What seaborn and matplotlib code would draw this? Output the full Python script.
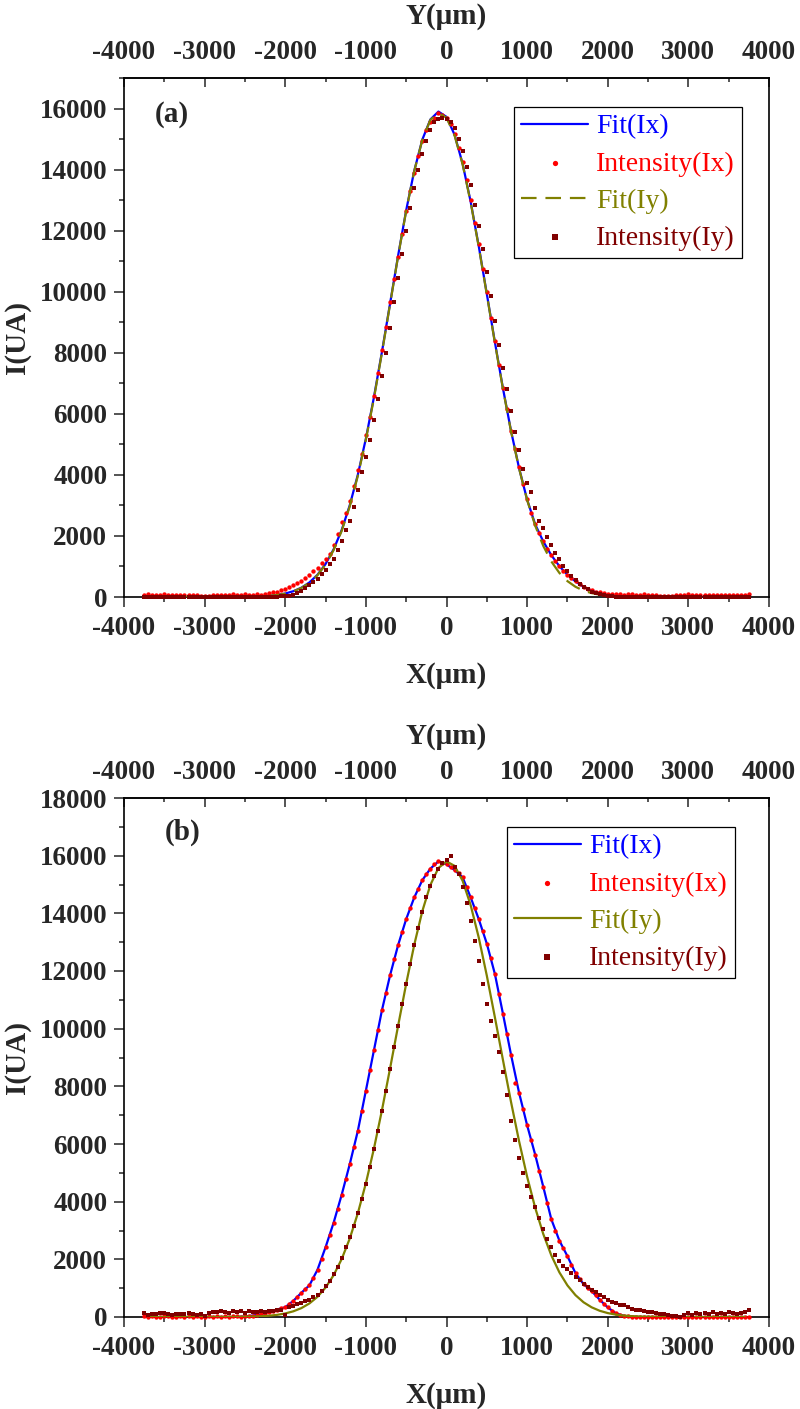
import numpy as np
import matplotlib
matplotlib.use("Agg")
import matplotlib.pyplot as plt
import seaborn as sns
from matplotlib.ticker import MultipleLocator, FixedLocator

# ---------------- sampling grids (µm) ----------------
x_fit = np.arange(-3700, 3701, 100)     # fit curves
x_int = np.arange(-3750, 3751, 50)      # measured intensity points

# ---------------- panel (a) ----------------
a_fit_ix = [0, 0, 0, 0, 0, 0, 0, 0, 0, 1,
            1, 2, 5, 11, 21, 39, 67, 114, 189, 304,
            477, 728, 1080, 1561, 2194, 3004, 4002, 5188, 6546, 8041,
            9612, 11184, 12666, 13962, 14980, 15642, 15900, 15727, 15142, 14191,
            12943, 11491, 9930, 8351, 6837, 5446, 4223, 3188, 2380, 1820,
            1370, 1010, 730, 510, 330, 205, 120, 68, 37, 19,
            9, 4, 2, 1, 0, 0, 0, 0, 0, 0,
            0, 0, 0, 0, 0]
a_fit_iy = [0, 0, 0, 0, 0, 0, 0, 0, 0, 1,
            1, 2, 5, 10, 20, 37, 64, 110, 183, 296,
            466, 713, 1060, 1537, 2165, 2970, 3965, 5150, 6510, 8010,
            9590, 11165, 12650, 13950, 14970, 15630, 15850, 15700, 15120, 14170,
            12920, 11470, 9910, 8330, 6820, 5430, 4210, 3180, 2340, 1674,
            1165, 789, 520, 334, 208, 127, 75, 43, 24, 13,
            7, 3, 1, 0, 0, 0, 0, 0, 0, 0,
            0, 0, 0, 0, 0]
a_int_ix = [60, 90, 70, 80, 60, 90, 50, 70, 60, 70,
            50, 60, 70, 50, 40, 20, 30, 60, 70, 50,
            60, 80, 90, 70, 80, 90, 70, 80, 90, 80, 100,
            130, 160, 150, 220, 250, 320, 380, 450, 520, 610,
            720, 840, 960, 1100, 1250, 1400, 1700, 2050, 2450, 2750,
            3150, 3650, 4150, 4700, 5300, 5900, 6600, 7350, 8100, 8850,
            9650, 10400, 11150, 11900, 12650, 13300, 13900, 14450, 14950, 15300,
            15550, 15700, 15850, 15800, 15700, 15500, 15150, 14700, 14250, 13650,
            13000, 12250, 11550, 10750, 10000, 9150, 8400, 7600, 6850, 6150,
            5450, 4850, 4250, 3700, 3200, 2750, 2400, 2100, 1820, 1580,
            1370, 1180, 1010, 860, 730, 620, 510, 420, 340, 270,
            220, 180, 150, 130, 110, 100, 110, 90, 80, 90,
            100, 80, 70, 90, 80, 60, 50, 30, 20, 40,
            30, 60, 80, 70, 90, 60, 70, 80, 60, 70,
            80, 50, 70, 60, 80, 70, 60, 70, 80, 110]
a_int_iy = [0, 5, 0, 10, 0, 5, 0, 0, 10, 5,
            0, 5, 0, 10, 0, 5, 0, 0, 5, 10,
            0, 5, 0, 0, 10, 5, 0, 5, 10, 0, 5,
            5, 10, 15, 20, 30, 45, 75, 120, 190, 290,
            390, 480, 590, 740, 900, 1080, 1250, 1550, 1850, 2200,
            2500, 2950, 3500, 4100, 4600, 5150, 5800, 6500, 7250, 8000,
            8800, 9650, 10450, 11250, 12000, 12750, 13400, 14000, 14500, 14950,
            15300, 15550, 15650, 15700, 15650, 15550, 15350, 15000, 14600, 14100,
            13500, 12850, 12150, 11400, 10650, 9850, 9050, 8250, 7500, 6800,
            6100, 5400, 4800, 4200, 3750, 3450, 2900, 2500, 2250, 1950,
            1700, 1450, 1230, 1020, 850, 680, 550, 440, 330, 250,
            180, 130, 90, 60, 40, 25, 15, 10, 5, 0,
            5, 0, 10, 0, 5, 0, 0, 5, 10, 0,
            5, 0, 0, 10, 5, 0, 5, 0, 10, 5,
            0, 5, 0, 10, 0, 5, 0, 5, 0, 10]

# ---------------- panel (b) ----------------
b_fit_ix = [0, 0, 0, 0, 0, 0, 0, 0, 0, 0,
            0, 0, 20, 50, 100, 180, 260, 340, 560, 840,
            1100, 1640, 2420, 3270, 4240, 5300, 6450, 7850, 9250, 10650,
            11850, 12900, 13800, 14550, 15150, 15550, 15800, 15700, 15500, 15250,
            14550, 13800, 12950, 11900, 10520, 9100, 7780, 6650, 5630, 4520,
            3390, 2650, 2110, 1520, 1140, 900, 600, 330, 130, 40,
            10, 0, 0, 0, 0, 0, 0, 0, 0, 0,
            0, 0, 0, 0, 0]
b_fit_iy = [0, 0, 0, 0, 0, 0, 0, 0, 1, 1,
            2, 4, 8, 15, 26, 45, 75, 123, 197, 308,
            471, 701, 1020, 1449, 2009, 2720, 3595, 4638, 5840, 7181,
            8621, 10102, 11559, 12910, 14076, 14985, 15572, 15800, 15647, 15129,
            14280, 13160, 11839, 10398, 8916, 7462, 6099, 4865, 3789, 2880,
            2138, 1549, 1096, 757, 510, 336, 216, 136, 83, 50,
            29, 16, 9, 5, 2, 1, 0, 0, 0, 0,
            0, 0, 0, 0, 0]
b_int_ix = [20, 0, 30, 10, 0, 20, 40, 10, 0, 30,
            10, 20, 0, 30, 10, 0, 20, 10, 30, 0,
            20, 10, 30, 20, 10, 30, 40, 50, 70, 100, 140,
            180, 220, 260, 300, 340, 440, 560, 690, 840, 960,
            1100, 1350, 1640, 2000, 2420, 2830, 3270, 3750, 4240, 4800,
            5300, 5900, 6450, 7150, 7850, 8550, 9250, 9950, 10650, 11250,
            11850, 12400, 12900, 13350, 13800, 14200, 14550, 14850, 15150, 15350,
            15550, 15700, 15800, 15750, 15700, 15600, 15500, 15400, 15250, 14900,
            14550, 14200, 13800, 13400, 12950, 12450, 11900, 11200, 10520, 9800,
            9100, 8100, 7780, 7200, 6650, 6150, 5630, 5080, 4520, 3950,
            3390, 3000, 2650, 2380, 2110, 1800, 1520, 1320, 1140, 1020,
            900, 750, 600, 460, 330, 220, 130, 80, 40, 20,
            10, 0, 0, 10, 0, 0, 5, 0, 0, 10,
            0, 0, 10, 0, 0, 5, 0, 0, 10, 0,
            0, 5, 0, 0, 10, 0, 0, 5, 0, 10]
b_int_iy = [150, 80, 120, 90, 130, 150, 100, 80, 120, 90,
            110, 140, 120, 80, 110, 30, 150, 190, 160, 200,
            180, 140, 200, 170, 210, 150, 200, 180, 160, 210, 170,
            220, 200, 240, 260, 60, 330, 380, 440, 470, 560,
            600, 680, 780, 900, 1060, 1250, 1480, 1750, 2050, 2420,
            2780, 3150, 3600, 4100, 4620, 5200, 5820, 6450, 7150, 7850,
            8600, 9350, 10100, 10850, 11550, 12250, 12900, 13500, 14050, 14550,
            14950, 15300, 15550, 15750, 15850, 16000, 15600, 15350, 14900, 14350,
            13750, 13050, 12350, 11550, 10850, 10250, 9750, 9200, 8500, 7700,
            6800, 6150, 5500, 5000, 4550, 4150, 3800, 3450, 3050, 2700,
            2420, 2150, 1950, 1780, 1650, 1520, 1400, 1300, 1150, 1050,
            950, 850, 750, 680, 600, 520, 480, 430, 400, 330,
            290, 250, 230, 200, 180, 160, 140, 110, 90, 60,
            40, 20, 0, 60, 130, 80, 150, 100, 140, 90,
            160, 120, 150, 100, 170, 130, 110, 150, 180, 230]

labels = ["Fit(Ix)", "Intensity(Ix)", "Fit(Iy)", "Intensity(Iy)"]
x_major_ticks = [-4000, -3000, -2000, -1000, 0, 1000, 2000, 3000, 4000]
x_minor_ticks = [-3500, -2500, -1500, -500, 500, 1500, 2500, 3500]
y_ticks_major, y_ticks_minor = 2000, 1000

# ---------------- style ----------------
sns.set_style("ticks")
plt.rcParams['font.family'] = ['Liberation Serif', 'DejaVu Serif']
plt.rcParams['font.weight'] = 'bold'
plt.rcParams['axes.unicode_minus'] = False

C_BLUE, C_RED, C_OLIVE, C_DRED = '#0000FF', '#FF0000', '#808000', '#800000'
TICK_FS = 19.5
LABEL_FS = 21

fig = plt.figure(figsize=(8, 14.09), dpi=100)
W, H = 800.0, 1409.0


def make_panel(top_px, bottom_px, ymax, f_ix, f_iy, i_ix, i_iy, dashed, tag, tag_pos, leg_anchor):
    rect = [124 / W, 1 - bottom_px / H, 645 / W, (bottom_px - top_px) / H]
    ax = fig.add_axes(rect)
    sns.lineplot(x=x_fit, y=f_ix, ax=ax, color=C_BLUE, linewidth=1.6,
                 label=labels[0], estimator=None, legend=False)
    sns.scatterplot(x=x_int, y=i_ix, ax=ax, color=C_RED, marker='o', s=10,
                    linewidth=0, label=labels[1], clip_on=False, legend=False, zorder=3)
    sns.lineplot(x=x_fit, y=f_iy, ax=ax, color=C_OLIVE, linewidth=1.6,
                 linestyle=(0, (7, 4)) if dashed else '-',
                 label=labels[2], estimator=None, legend=False, zorder=4)
    sns.scatterplot(x=x_int, y=i_iy, ax=ax, color=C_DRED, marker='s', s=11,
                    linewidth=0, label=labels[3], clip_on=False, legend=False, zorder=5)

    ax.set_xlim(-4000, 4000)
    ax.set_ylim(0, ymax)
    ax.xaxis.set_major_locator(FixedLocator(x_major_ticks))
    ax.xaxis.set_minor_locator(FixedLocator(x_minor_ticks))
    ax.yaxis.set_major_locator(MultipleLocator(y_ticks_major))
    ax.yaxis.set_minor_locator(MultipleLocator(y_ticks_minor))
    ax.tick_params(axis='x', which='major', direction='out', length=7, width=1.1,
                   labelsize=TICK_FS, pad=7, top=False)
    ax.tick_params(axis='x', which='minor', direction='out', length=3.6, width=1.1, top=False)
    ax.tick_params(axis='y', which='major', direction='out', length=7, width=1.1,
                   labelsize=TICK_FS, pad=5, right=False)
    ax.tick_params(axis='y', which='minor', direction='out', length=3.6, width=1.1, right=False)
    for sp in ax.spines.values():
        sp.set_linewidth(1.2)
        sp.set_color('black')

    ax.set_xlabel('X(μm)', fontsize=LABEL_FS, fontweight='bold', labelpad=15)
    ax.set_ylabel('I(UA)', fontsize=LABEL_FS, fontweight='bold', labelpad=6)

    top = ax.secondary_xaxis('top')
    top.xaxis.set_major_locator(FixedLocator(x_major_ticks))
    top.xaxis.set_minor_locator(FixedLocator(x_minor_ticks))
    top.tick_params(axis='x', which='major', direction='in', length=6.5, width=1.1,
                    labelsize=TICK_FS, pad=9)
    top.tick_params(axis='x', which='minor', direction='in', length=3, width=1.1)
    top.spines['top'].set_linewidth(1.2)
    top.set_xlabel('Y(μm)', fontsize=LABEL_FS, fontweight='bold', labelpad=12)

    ax.text(tag_pos[0], tag_pos[1], tag, transform=ax.transAxes, fontsize=21,
            fontweight='bold', ha='center', va='center')

    h, l = ax.get_legend_handles_labels()
    order = [l.index(lab) for lab in labels]
    leg = ax.legend([h[i] for i in order], [l[i] for i in order],
                    loc='upper right', bbox_to_anchor=leg_anchor, borderaxespad=0,
                    frameon=True, fancybox=False, edgecolor='black', framealpha=1,
                    borderpad=0.25, handlelength=2.4, handletextpad=0.3,
                    labelspacing=0.42, markerscale=1.2,
                    prop={'family': 'Liberation Serif', 'weight': 'normal', 'size': 20})
    leg.get_frame().set_linewidth(0.9)
    for t, c in zip(leg.get_texts(), [C_BLUE, C_RED, C_OLIVE, C_DRED]):
        t.set_color(c)
    return ax


make_panel(78, 597, 17000, a_fit_ix, a_fit_iy, a_int_ix, a_int_iy, True,
           '(a)', (0.0744, 0.929), (0.958, 0.944))
make_panel(798, 1317, 18000, b_fit_ix, b_fit_iy, b_int_ix, b_int_iy, False,
           '(b)', (0.0915, 0.934), (0.947, 0.944))

fig.savefig('out.png', dpi=100)
